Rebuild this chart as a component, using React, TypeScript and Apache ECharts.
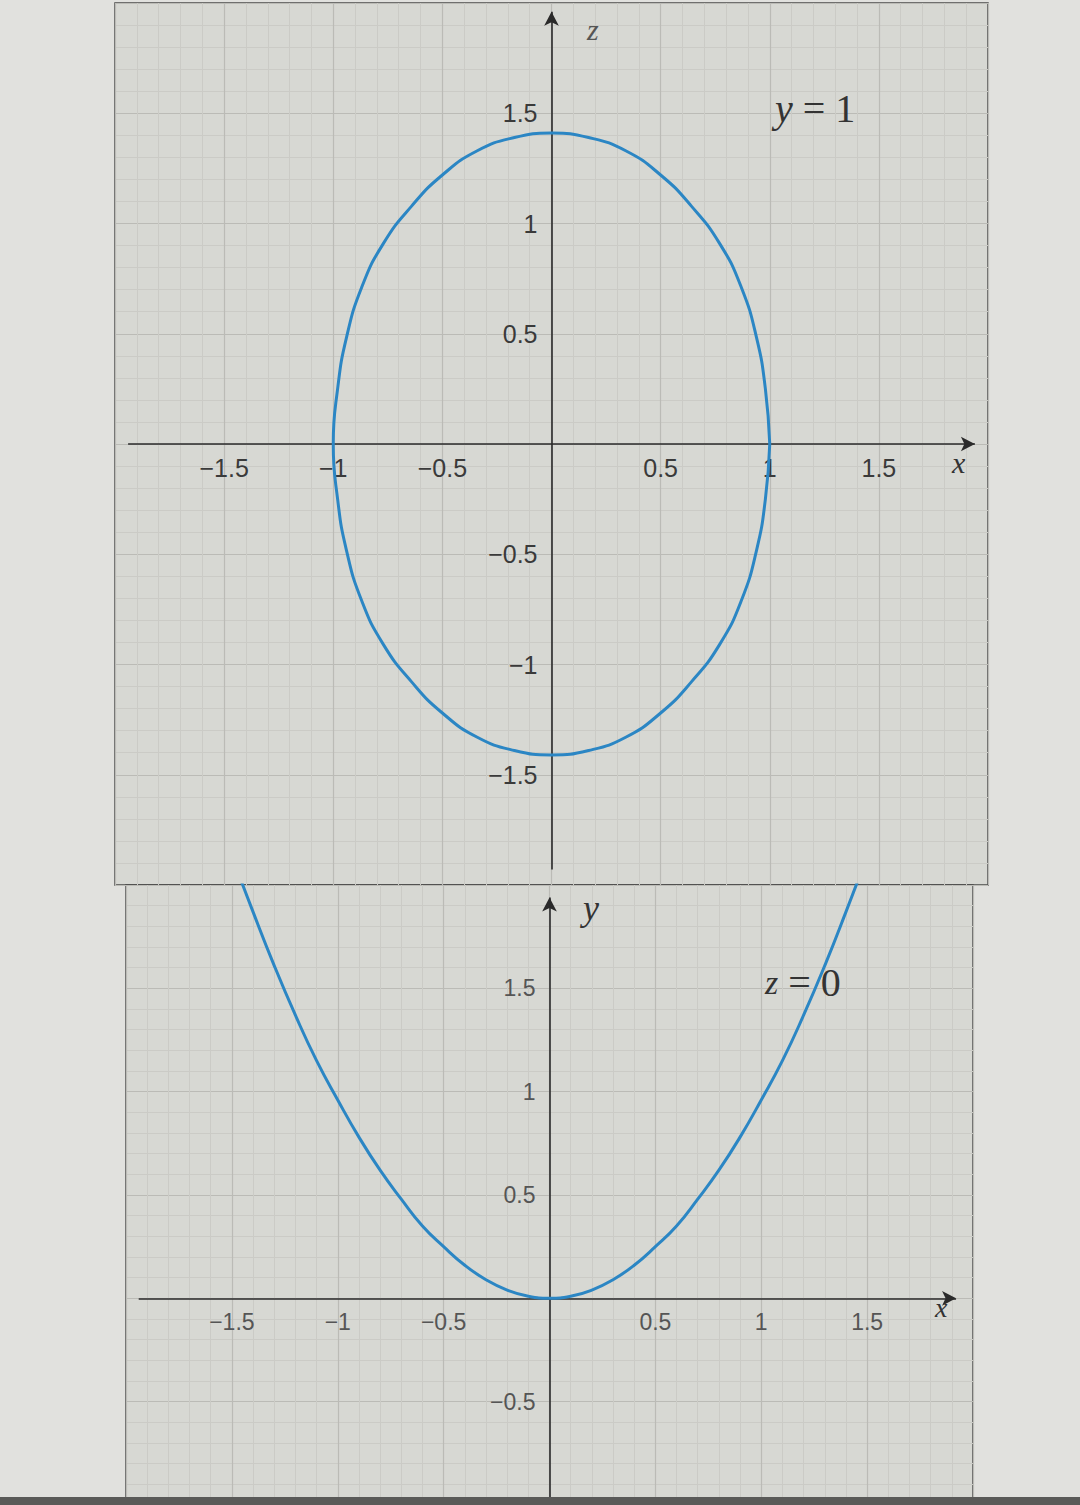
import React, { useEffect, useRef } from "react";
import * as echarts from "echarts";

// Top panel: trace y = 1 (ellipse in the x–z plane)
const ellipseX = [1, 0.98, 0.94, 0.87, 0.77, 0.64, 0.5, 0.34, 0.17, 0, -0.17, -0.34, -0.5, -0.64, -0.77, -0.87, -0.94, -0.98, -1, -0.98, -0.94, -0.87, -0.77, -0.64, -0.5, -0.34, -0.17, 0, 0.17, 0.34, 0.5, 0.64, 0.77, 0.87, 0.94, 0.98, 1];
const ellipseZ = [0, 0.25, 0.48, 0.71, 0.91, 1.08, 1.22, 1.33, 1.39, 1.41, 1.39, 1.33, 1.22, 1.08, 0.91, 0.71, 0.48, 0.25, 0, -0.25, -0.48, -0.71, -0.91, -1.08, -1.22, -1.33, -1.39, -1.41, -1.39, -1.33, -1.22, -1.08, -0.91, -0.71, -0.48, -0.25, 0];

// Bottom panel: trace z = 0 (parabola in the x–y plane)
const parabolaX = [-1.5, -1.4, -1.3, -1.2, -1.1, -1.0, -0.9, -0.8, -0.7, -0.6, -0.5, -0.4, -0.3, -0.2, -0.1, 0, 0.1, 0.2, 0.3, 0.4, 0.5, 0.6, 0.7, 0.8, 0.9, 1.0, 1.1, 1.2, 1.3, 1.4, 1.5];
const parabolaY = [2.14, 1.87, 1.61, 1.37, 1.15, 0.96, 0.78, 0.62, 0.48, 0.35, 0.25, 0.16, 0.09, 0.04, 0.01, 0, 0.01, 0.04, 0.09, 0.16, 0.25, 0.35, 0.48, 0.62, 0.78, 0.96, 1.15, 1.37, 1.61, 1.87, 2.14];

// Axis ranges and tick step
const topXRange = [-2, 2];
const topZRange = [-2, 2];
const botXRange = [-2, 2];
const botYRange = [-1, 2];
const tickStep = 0.5;

// Axis line extents (arrow at the end)
const topXAxisExtent = [-1.94, 1.94];
const topZAxisExtent = [-1.93, 1.96];
const botXAxisExtent = [-1.94, 1.92];
const botYAxisExtent = [-1, 1.94];

const panelTitles = ["y = 1", "z = 0"];

// Layout (pixels)
const TOP = { left: 115, right: 92, top: 3, height: 882 };
const BOT = { left: 126, right: 107, top: 885, height: 620 };
const W = 1080;

const BLUE = "#2b86c4";
const AXIS = "#2a2a2a";

function fmtFactory(hidden: number[]) {
  return (v: number) => {
    if (Math.abs(v) < 1e-9) return "";
    if (hidden.some((h) => Math.abs(h - v) < 1e-9)) return "";
    return v < 0 ? "\u2212" + Math.abs(v) : String(v);
  };
}

function makeAxis(range: number[], hidden: number[], fontSize: number, color: string, margin: number, position: string, offset: number) {
  return {
    type: "value",
    min: range[0],
    max: range[1],
    interval: tickStep,
    position,
    offset,
    axisLine: { show: false, onZero: false },
    axisTick: { show: false },
    minorTick: { show: false, splitNumber: 5 },
    axisLabel: {
      show: true,
      formatter: fmtFactory(hidden),
      fontSize,
      color,
      margin,
      fontFamily: "Liberation Sans, Arial, sans-serif",
      showMinLabel: true,
      showMaxLabel: true,
    },
    splitLine: { show: true, lineStyle: { color: "#bbbbb6", width: 1.2 } },
    minorSplitLine: { show: true, lineStyle: { color: "#cbcbc6", width: 1 } },
  };
}

function axisMarkLine(xExt: number[], yExt: number[]) {
  return {
    silent: true,
    symbol: ["none", "arrow"],
    symbolSize: [11, 14],
    label: { show: false },
    lineStyle: { color: AXIS, width: 1.6, type: "solid" },
    emphasis: { disabled: true },
    data: [
      [{ coord: [xExt[0], 0] }, { coord: [xExt[1], 0] }],
      [{ coord: [0, yExt[0]] }, { coord: [0, yExt[1]] }],
    ],
  };
}

// offset that moves an edge axis onto the other axis's zero
function zeroOffsets(g: { left: number; right: number; top: number; height: number }, xr: number[], yr: number[]) {
  const width = W - g.left - g.right;
  const zeroX = g.left + ((0 - xr[0]) / (xr[1] - xr[0])) * width;
  const zeroY = g.top + ((yr[1] - 0) / (yr[1] - yr[0])) * g.height;
  return { xOff: -(g.top + g.height - zeroY), yOff: -(zeroX - g.left) };
}

export default function App() {
  const ref = useRef<HTMLDivElement>(null);
  useEffect(() => {
    if (!ref.current) return;
    const chart = echarts.init(ref.current, null, { renderer: "svg" });
    const ellipseData = ellipseX.map((x, i) => [x, ellipseZ[i]]);
    const parabolaData = parabolaX.map((x, i) => [x, parabolaY[i]]);
    const italic = { fontFamily: "Liberation Serif, DejaVu Serif, serif", fontStyle: "italic" };
    const t = zeroOffsets(TOP, topXRange, topZRange);
    const b = zeroOffsets(BOT, botXRange, botYRange);
    chart.setOption({
      animation: false,
      backgroundColor: "#e1e1de",
      grid: [
        { ...TOP, show: true, backgroundColor: "#d7d8d3", borderColor: "#4a4a4a", borderWidth: 1.5 },
        { ...BOT, show: true, backgroundColor: "#d7d8d3", borderColor: "#4a4a4a", borderWidth: 1.5 },
      ],
      xAxis: [
        { ...makeAxis(topXRange, [-2, 2], 25, "#3a3a3a", 11, "bottom", t.xOff), gridIndex: 0 },
        { ...makeAxis(botXRange, [-2, 2], 23, "#555", 12, "bottom", b.xOff), gridIndex: 1 },
      ],
      yAxis: [
        { ...makeAxis(topZRange, [-2, 2], 25, "#3a3a3a", 14, "left", t.yOff), gridIndex: 0 },
        { ...makeAxis(botYRange, [-1, 2], 23, "#555", 14, "left", b.yOff), gridIndex: 1 },
      ],
      series: [
        {
          type: "line",
          xAxisIndex: 0,
          yAxisIndex: 0,
          data: ellipseData,
          smooth: true,
          showSymbol: false,
          lineStyle: { color: BLUE, width: 3 },
          z: 5,
          markLine: axisMarkLine(topXAxisExtent, topZAxisExtent),
        },
        {
          type: "line",
          xAxisIndex: 1,
          yAxisIndex: 1,
          data: parabolaData,
          smooth: true,
          showSymbol: false,
          clip: true,
          lineStyle: { color: BLUE, width: 3 },
          z: 5,
          markLine: axisMarkLine(botXAxisExtent, botYAxisExtent),
        },
      ],
      graphic: [
        {
          type: "text",
          left: 775,
          top: 88,
          z: 10,
          style: {
            text: "{i|y} = 1",
            fill: "#333",
            font: "40px Liberation Serif, serif",
            rich: { i: { ...italic, fontSize: 40, fill: "#333" } },
          },
        },
        {
          type: "text",
          left: 765,
          top: 962,
          z: 10,
          style: {
            text: "{i|z} = 0",
            fill: "#333",
            font: "40px Liberation Serif, serif",
            rich: { i: { ...italic, fontSize: 34, fill: "#333" } },
          },
        },
        { type: "text", left: 587, top: 14, z: 10, style: { text: "z", fill: "#555", font: "italic 30px Liberation Serif, serif" } },
        { type: "text", left: 952, top: 447, z: 10, style: { text: "x", fill: "#333", font: "italic 30px Liberation Serif, serif" } },
        { type: "text", left: 583, top: 890, z: 10, style: { text: "y", fill: "#333", font: "italic 36px Liberation Serif, serif" } },
        { type: "text", left: 935, top: 1293, z: 10, style: { text: "x", fill: "#333", font: "italic 28px Liberation Serif, serif" } },
        { type: "rect", left: 0, top: 1497, z: 10, shape: { width: 1080, height: 8 }, style: { fill: "#5a5a58" } },
      ],
    });
    return () => chart.dispose();
  }, []);
  return (
    <div
      ref={ref}
      style={{ position: "absolute", left: 0, top: 0, width: 1080, height: 1505 }}
      aria-label={panelTitles.join(", ")}
    />
  );
}
